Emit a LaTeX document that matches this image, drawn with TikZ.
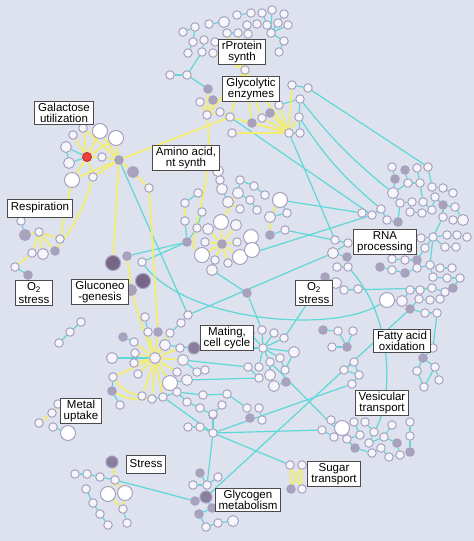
\documentclass[tikz,border=0pt]{standalone}
\usepackage{fontspec}
\setmainfont{Liberation Sans}
\pgfdeclarelayer{bg}
\pgfdeclarelayer{edges}
\pgfsetlayers{bg,edges,main}
\definecolor{bgc}{HTML}{DDE2EE}
\definecolor{cyn}{HTML}{5ED8D6}
\definecolor{yel}{HTML}{F2ED6E}
\definecolor{nbd}{HTML}{A8A1C0}
\definecolor{nwh}{HTML}{F5F5FA}
\definecolor{nda}{HTML}{A9A2BC}
\definecolor{ndb}{HTML}{8A7E9E}
\definecolor{ndc}{HTML}{776687}
\definecolor{redn}{HTML}{F04040}
\definecolor{labc}{HTML}{4A4A4A}
\tikzset{
  vbase/.style={circle, inner sep=0pt, draw=nbd, line width=1pt},
  vs/.style={vbase, fill=nwh, minimum size=8.5pt},
  vm/.style={vbase, fill=nwh, minimum size=11pt},
  vl/.style={vbase, fill=white, minimum size=15pt},
  vd/.style={vbase, fill=nda, minimum size=8.5pt},
  vdm/.style={vbase, fill=nda, minimum size=11pt},
  vD/.style={vbase, fill=ndb, minimum size=12pt},
  vDD/.style={vbase, fill=ndc, minimum size=15pt},
  vr/.style={vbase, fill=redn, draw=redn!80!black, minimum size=9pt},
  cy/.style={draw=cyn, line width=1.2pt},
  ye/.style={draw=yel, line width=1.8pt},
  lab/.style={draw=labc, fill=white, line width=0.9pt, align=center,
    inner xsep=3.5pt, inner ysep=1.5pt, font=\fontsize{11.5}{11}\selectfont},
  lab1/.style={lab, minimum height=18pt}
}
\begin{document}
\begin{tikzpicture}[x=1pt,y=-1pt]
\useasboundingbox (0,0) rectangle (474,541);
\begin{pgfonlayer}{bg}
\fill[bgc] (0,0) rectangle (474,541);
\end{pgfonlayer}
% ---------------- nodes ----------------
\foreach \n/\x/\y/\s in {
 t1/183/32/vs, t2/195/27/vs, t3/209/24/vs, t4/224/22/vm, t5/237/15/vs, t6/251/13/vs,
 t7/262/13/vs, t8/272/10/vs, t9/284/14/vs, t10/247/25/vs, t11/257/24/vs, t12/267/25/vs,
 t13/278/23/vs, t14/288/25/vs, t15/227/33/vs, t16/238/33/vs, t17/248/34/vs, t18/271/33/vs,
 t19/284/41/vs, t20/193/42/vs, t21/204/40/vs, t22/215/42/vs, t24/188/53/vs, t25/202/52/vs,
 t26/213/53/vs, t27/279/52/vs, t29/245/70/vs, t30/170/75/vs, t31/187/75/vs, t32/208/89/vd,
 t33/213/100/vd, t34/200/102/vs, t35/207/115/vs, t36/230/117/vs, t37/252/123/vd, t38/270/113/vd,
 t39/262/118/vs, t40/279/105/vs, t41/292/85/vs, t42/308/88/vs, t43/300/99/vs, t44/299/117/vs,
 t45/289/133/vs, t46/300/133/vs, t47/220/112/vs, t48/232/133/vs,
 g1/87/157/vr, g2/73/135/vs, g3/83/128/vs, g4/100/131/vl, g5/116/138/vl, g6/66/147/vm,
 g7/69/163/vm, g8/72/180/vl, g9/102/157/vs, g10/93/177/vs, g11/119/160/vd, g12/133/172/vdm,
 g13/149/188/vs,
 r1/21/221/vs, r2/25/235/vdm, r3/39/232/vs, r4/60/239/vs, r5/55/251/vd, r6/32/253/vs,
 r7/43/254/vm, r8/15/267/vs, r9/28/275/vd,
 q1/113/263/vDD, q2/127/256/vd, q3/143/281/vDD, q4/131/290/vdm, q5/142/262/vs,
 mh/155/358/vm, m1/112/358/vm, m2/145/317/vs, m3/148/332/vs, m4/158/332/vd, m5/123/337/vd,
 m6/134/342/vs, m7/135/353/vs, m8/134/363/vs, m9/138/374/vs, m10/113/377/vs, m11/112/391/vd,
 m12/120/405/vs, m13/142/396/vs, m14/152/399/vs, m15/163/397/vs, m16/170/383/vl, m17/177/372/vs,
 m18/187/380/vm, m19/183/360/vm, m20/180/348/vs, m21/165/345/vm, m22/170/333/vs, m23/181/323/vs,
 m24/188/315/vs, m25/194/348/vD, m26/177/392/vs, m27/203/395/vs, m28/227/394/vs, m29/187/402/vs,
 m30/200/408/vs, m31/213/415/vs, m32/197/372/vs, m33/205/370/vs,
 n0/263/348/vs, n1/250/333/vs, n2/262/330/vs, n3/274/333/vs, n4/284/338/vs, n5/294/352/vm,
 n6/280/358/vs, n7/270/362/vs, n8/259/367/vs, n9/248/367/vs, n10/285/370/vs, n11/270/375/vm,
 n12/259/378/vs, n13/274/386/vm, n14/286/382/vd,
 w1/247/408/vs, w2/259/408/vs, w3/250/418/vd, w4/262/420/vs,
 x1/188/427/vs, x2/200/427/vs, x3/213/433/vs, x4/213/414/vs, x5/222/405/vs,
 k1/200/473/vd, k2/218/477/vs, k3/193/485/vs, k4/207/485/vs, k5/206/497/vD, k6/195/501/vd,
 k7/212/508/vd, k8/199/514/vd, k9/206/527/vs, k10/218/523/vs, k11/233/521/vm,
 s1/290/465/vs, s2/302/465/vs, s3/291/489/vd, s4/302/489/vs,
 e1/112/462/vD, e2/115/480/vs, e3/75/474/vs, e4/87/474/vs, e5/100/477/vs, e6/86/489/vs,
 e7/108/494/vl, e8/125/493/vl, e9/93/503/vs, e10/123/509/vs, e11/100/514/vs, e12/108/525/vs,
 e13/127/523/vs,
 u1/52/413/vs, u2/39/423/vs, u3/53/427/vs, u4/68/433/vl, u5/58/404/vs,
 l1/59/343/vs, l2/70/332/vs, l3/81/322/vs,
 v1/331/420/vs, v2/342/428/vl, v3/322/430/vs, v4/334/437/vs, v5/354/422/vs, v6/365/422/vs,
 v7/374/432/vs, v8/360/435/vs, v9/347/439/vs, v10/355/448/vd, v11/369/443/vs, v12/384/437/vs,
 v13/392/425/vs, v14/397/443/vd, v15/372/453/vs, v16/381/448/vs, v17/389/457/vs, v18/400/455/vs,
 v19/410/422/vs, v20/410/436/vs, v21/410/452/vd,
 f1/433/348/vs, f2/423/358/vd, f3/435/367/vs, f4/417/371/vs, f5/439/380/vs, f6/424/387/vs,
 o1/323/330/vd, o2/338/331/vs, o3/353/331/vs, o4/332/347/vs, o5/347/347/vd, o6/354/362/vs,
 o7/344/370/vs, o8/359/375/vs, o9/352/384/vs,
 c1/220/180/vs, c2/240/180/vs, c3/222/189/vm, c4/238/193/vm, c5/250/200/vs, c6/228/202/vm,
 c7/240/209/vs, c8/257/210/vs, c9/265/195/vs, c10/280/200/vl, c11/198/193/vs, c12/185/203/vs,
 c13/202/212/vs, c14/185/221/vs, c15/197/228/vs, c16/187/242/vd, c17/208/229/vm, c18/221/222/vl,
 c19/236/225/vm, c20/205/242/vs, c21/222/244/vd, c22/237/242/vs, c23/251/237/vl, c24/202/255/vl,
 c25/215/260/vs, c26/228/263/vs, c27/240/257/vl, c28/252/250/vl, c29/212/270/vm, c30/247/293/vd,
 c31/270/217/vm, c32/270/235/vd, c33/287/213/vs, c34/285/230/vs, c35/218/171/vm, c36/254/186/vs,
 a1/392/167/vs, a2/405/170/vd, a3/417/168/vs, a4/428/167/vs, a5/395/179/vd, a6/408/183/vs,
 a7/420/183/vs, a8/432/187/vs, a9/443/188/vs, a10/453/193/vs, a11/393/193/vm, a12/400/203/vs,
 a13/412/202/vs, a14/423/202/vs, a15/435/197/vs, a16/443/205/vd, a17/455/207/vs, a18/463/220/vm,
 a19/453/220/vs, a20/443/217/vs, a21/432/210/vs, a22/422/213/vs, a23/410/212/vs, a24/398/222/vd,
 a25/387/220/vs, a26/381/209/vs, a27/372/215/vs, a28/362/213/vs, a29/433/237/vs, a30/421/238/vs,
 a31/447/235/vs, a32/457/235/vs, a33/467/237/vs, a34/445/247/vs, a35/456/247/vs, a36/425/248/vs,
 a37/417/260/vd, a38/405/260/vs, a39/392/259/vs, a40/380/267/vd, a41/392/270/vs, a42/405/273/vd,
 a43/417/268/vs, a44/430/265/vs, a45/440/268/vs, a46/452/268/vs, a47/433/277/vs, a48/447/278/vs,
 a49/460/278/vs, a50/453/288/vd, a51/335/240/vs, a52/348/243/vs, a53/333/253/vm, a54/347/257/vd,
 a55/337/267/vs, a56/348/267/vs, a57/325/277/vd, a58/336/283/vm, a59/344/290/vs, a60/358/289/vs,
 a61/387/300/vl, a62/402/301/vm, a63/410/290/vs, a64/420/290/vs, a65/432/288/vs, a66/445/292/vs,
 a67/410/309/vd, a68/425/313/vs, a69/437/313/vs, a70/419/299/vs, a71/430/300/vs, a72/440/299/vs}
 \node[\s] (\n) at (\x,\y) {};
% ---------------- edges ----------------
\begin{pgfonlayer}{edges}
\foreach \a/\b in {
 t1/t2, t3/t4, t5/t6, t20/t24, t21/t25, t25/t31, t30/t31, t31/t32, t10/t11, t18/t7, t18/t8,
 t18/t9, t18/t12, t18/t13, t18/t14, t18/t19, t19/t27, t41/t42, t43/t44, t44/t46, t45/t46, t40/t43,
 t2/t20, t15/t16,
 g1/g6, g6/g7, g1/g7, r1/r2, r8/r9, q2/c16, q5/c16,
 mh/m1, m10/m11, m11/m12, m5/m6, m2/m3, m22/m23, m23/m24, m21/m25, m19/m32, m32/m33,
 m14/m15, m15/m26, m26/m27, m27/m28, m26/m29, m29/m30, m30/m31, m16/m18,
 n0/n1, n0/n2, n0/n3, n0/n4, n0/n5, n0/n6, n0/n7, n0/n8, n7/n11, n11/n13, n13/n14, n10/n5,
 n12/n9, n6/n10, w1/w3, w2/w4, x1/x2, x2/x3, x3/x4, x4/x5,
 k3/k4, k2/k4, k1/k4, k4/k5, k5/k6, k5/k7, k7/k8, k8/k9, k9/k10, k10/k11,
 e3/e4, e4/e5, e5/e2, e6/e9, e9/e11, e11/e12, e10/e13, u3/u4, l1/l2, l2/l3,
 v3/v4, v1/v2, v5/v8, v6/v7, v8/v9, v9/v10, v7/v11, v11/v12, v12/v13, v12/v14, v14/v18,
 v15/v16, v16/v17, v17/v18, v19/v20, v20/v21, v10/v15,
 f1/f2, f2/f3, f2/f4, f3/f5, f4/f6, f3/f6,
 o1/o2, o2/o5, o3/o5, o4/o5, o6/o7, o7/o8, o8/o9, o6/o8,
 c11/c12, c1/c3, c3/c6, c4/c5, c5/c8, c2/c4, c2/c36, c36/c9, c14/c16, c16/c15, c13/c15,
 c29/c30, c31/c33, c32/c34, c10/c33, c35/c1,
 a5/a11, a11/a12, a11/a6, a6/a7, a7/a3, a1/a5, a2/a6, a4/a8, a8/a9, a9/a10, a8/a15, a15/a16,
 a16/a17, a17/a18, a15/a21, a21/a22, a22/a23, a23/a13, a13/a12, a14/a7, a14/a21, a12/a24,
 a24/a25, a25/a26, a26/a27, a27/a28, a19/a20, a20/a16, a19/a18, a29/a30, a29/a31, a31/a32,
 a32/a33, a29/a34, a34/a35, a29/a36, a36/a37, a37/a38, a38/a39, a29/a44, a44/a45, a45/a46,
 a44/a43, a43/a42, a42/a41, a41/a40, a47/a44, a47/a48, a48/a49, a49/a50, a29/a20,
 a51/a52, a52/a53, a53/a54, a54/a56, a55/a56, a57/a58, a58/a59, a59/a60, a61/a62, a62/a63,
 a63/a64, a64/a65, a65/a66, a70/a71, a71/a72, a70/a67, a67/a68, a68/a69,
 g11/m24, m25/n0, x3/k4, x3/s1, x3/v3, e2/k6, k5/a67, t45/a51, t42/a4, m15/x3, n7/v10,
 a57/n4, c30/n2, m24/a53, x3/o9, f1/a69, a59/a65, c27/a27, t36/a27, c10/a28, c34/a52,
 m18/n12, m19/n9, m28/w1}
 \draw[cy] (\a) -- (\b);
\draw[cy] (t43) to[bend right=6] (a11);
\draw[cy] (t44) to[bend right=8] (a26);
\draw[cy] (q5) .. controls (185,320) and (330,335) .. (a61);
\draw[cy] (a56) .. controls (395,320) and (392,400) .. (v7);
\foreach \a/\b in {
 t29/t15, t29/t16, t29/t17, t29/t22, t29/t26, t29/t35, t29/t36, t29/t39, t29/t37, t29/t45,
 t45/t36, t45/t37, t45/t38, t45/t39, t45/t40, t45/t41, t45/t44, t45/t48, t35/t32, t35/t33,
 t35/t34, t35/t47, t47/t36,
 g1/g2, g1/g3, g1/g4, g1/g5, g1/g9, g1/g8, g1/g10, g11/g3, g11/g4, g11/g5, g11/g8, g11/g10,
 g11/g12, g12/g13, g9/g11, g11/t36, g11/q1, g13/m4,
 r3/r2, r3/r4, r3/r6, r3/r7, r3/r5, r6/r8, r4/g8,
 mh/m3, mh/m4, mh/m6, mh/m7, mh/m8, mh/m9, mh/m13, mh/m14, mh/m15, mh/m16, mh/m17, mh/m19,
 mh/m20, mh/m21, mh/m22, mh/m10,
 c21/c17, c21/c18, c21/c19, c21/c20, c21/c22, c21/c24, c21/c25, c21/c26, c21/c27, c12/c14,
 c31/c32, c10/c31, c6/c7, c18/c4,
 e1/e2, e2/e7, e2/e8, e7/e10, e8/e10, u1/u2, u1/u5,
 s1/s3, s2/s4, s1/s4, s2/s3}
 \draw[ye] (\a) -- (\b);
\draw[ye] (q2) to[bend right=8] (mh);
\draw[ye] (r5) to[bend right=10] (g10);
\draw[ye] (t35) .. controls (215,190) and (185,240) .. (c24);
\draw[ye] (m10) to[bend right=20] (m13);
\draw[ye] (m11) to[bend right=15] (m14);
\end{pgfonlayer}
% ---------------- labels ----------------
\node[lab] (Lrp) at (242,52) {rProtein\\synth};
\node[lab] (Lgly) at (251,89) {Glycolytic\\enzymes};
\node[lab] (Lgal) at (64,113) {Galactose\\utilization};
\node[lab] (Lami) at (186,158) {Amino acid,\\nt synth};
\node[lab1] (Lres) at (40,208) {Respiration};
\node[lab] (Lrna) at (385,242) {RNA\\processing};
\node[lab] (Lo2a) at (34,293) {O\textsubscript{2}\\[2pt]stress};
\node[lab] (Lglu) at (100,292) {Gluconeo\\-genesis};
\node[lab] (Lo2b) at (314,293) {O\textsubscript{2}\\[2pt]stress};
\node[lab] (Lmat) at (227,338) {Mating,\\cell cycle};
\node[lab] (Lfat) at (402,341) {Fatty acid\\oxidation};
\node[lab] (Lmet) at (81,411) {Metal\\uptake};
\node[lab] (Lves) at (382,403) {Vesicular\\transport};
\node[lab1] (Lstr) at (146,464) {Stress};
\node[lab] (Lsug) at (334,474) {Sugar\\transport};
\node[lab] (Lglc) at (248,500) {Glycogen\\metabolism};
\end{tikzpicture}
\end{document}
